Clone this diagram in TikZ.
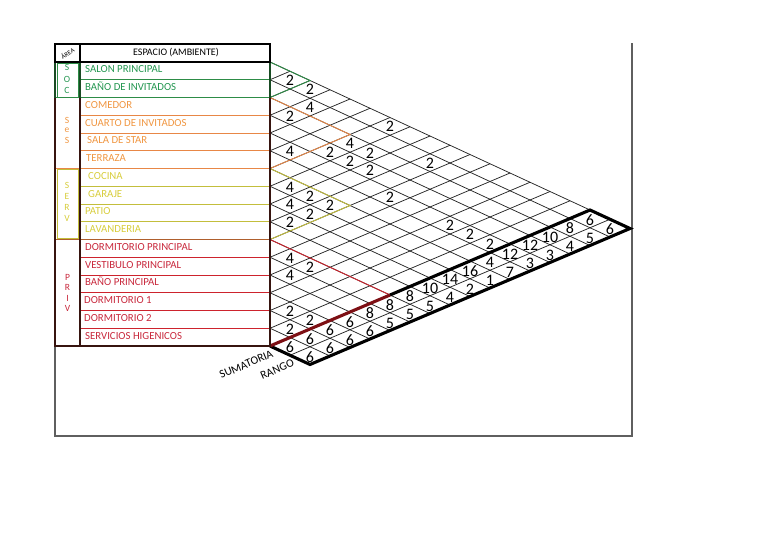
\documentclass[tikz,border=0pt]{standalone}
\usepackage{fontspec}
\setmainfont{Carlito}
\definecolor{socl}{RGB}{45,140,70}
\definecolor{soct}{RGB}{35,150,80}
\definecolor{socdark}{RGB}{25,75,35}
\definecolor{sesl}{RGB}{232,135,70}
\definecolor{sest}{RGB}{240,150,65}
\definecolor{servl}{RGB}{195,190,60}
\definecolor{servt}{RGB}{215,205,60}
\definecolor{privl}{RGB}{205,35,45}
\definecolor{privt}{RGB}{200,40,60}
\definecolor{privdark}{RGB}{125,15,20}
\definecolor{dkbrown}{RGB}{55,20,15}
\definecolor{sepbrown}{RGB}{175,95,45}
\definecolor{framegray}{RGB}{95,95,95}
\newcommand\yrow[1]{62+17.75*(#1)}
\newcommand\gpx[2]{270+20*((#2)-(#1))}
\newcommand\gpy[2]{62+17.75*(#1)+9.25*((#2)-(#1))}
\newcommand\ccx[2]{270+20*((#2)-(#1))}
\newcommand\ccy[2]{62+17.75*((#1)-0.5)+9.25*((#2)-(#1))}
\tikzset{
  gridln/.style={line width=0.75pt, black!85},
  rowtxt/.style={anchor=base west, inner sep=0pt, font=\fontsize{10.8}{12}\selectfont},
  grptxt/.style={inner sep=0pt, font=\fontsize{9.5}{10}\selectfont},
  numtxt/.style={anchor=base, inner sep=0pt, font=\fontsize{16}{18}\selectfont},
  bandln/.style={line width=3.1pt, black, line join=miter},
  bandlbl/.style={anchor=base east, inner sep=0pt, rotate=23, font=\fontsize{11.5}{13}\selectfont},
}
\begin{document}
\begin{tikzpicture}[x=1pt,y=-1pt]
\useasboundingbox (0,0) rectangle (768,543);

% outer frame
\draw[framegray, line width=1.1pt] (55,346) -- (55,436) -- (632,436) -- (632,43);

% ---------- grid ----------
\foreach \k in {0,...,16}
  \draw[gridln] (270,{\yrow{\k}}) -- ({\gpx{\k}{18}},{\gpy{\k}{18}});
\foreach \j in {1,...,16}
  \draw[gridln] (270,{\yrow{\j}}) -- ({\gpx{0}{\j}},{\gpy{0}{\j}});
\foreach \j in {17,18}
  \draw[gridln] ({\gpx{16}{\j}},{\gpy{16}{\j}}) -- ({\gpx{0}{\j}},{\gpy{0}{\j}});

% group triangles
\draw[socl, line width=0.9pt] (270,{\yrow{0}}) -- ({\gpx{0}{2}},{\gpy{0}{2}}) -- (270,{\yrow{2}});
\draw[sesl, line width=0.9pt] (270,{\yrow{2}}) -- ({\gpx{2}{6}},{\gpy{2}{6}}) -- (270,{\yrow{6}});
\draw[servl, line width=0.9pt] (270,{\yrow{6}}) -- ({\gpx{6}{10}},{\gpy{6}{10}}) -- (270,{\yrow{10}});
\draw[privl, line width=0.9pt] (270,{\yrow{10}}) -- ({\gpx{10}{16}},{\gpy{10}{16}});

% band outline
\coordinate (b1) at (270,{\yrow{16}});
\coordinate (b2) at ({\gpx{16}{18}},{\gpy{16}{18}});
\coordinate (b3) at ({\gpx{0}{18}},{\gpy{0}{18}});
\coordinate (b4) at ({\gpx{0}{16}},{\gpy{0}{16}});
\coordinate (b5) at ({\gpx{10}{16}},{\gpy{10}{16}});
\draw[bandln] (b5) -- (b4) -- (b3) -- (b2) -- (b1);
\draw[bandln, privdark] (b1) -- (b5);

% ---------- table ----------
% row separators
\draw[socl, line width=0.9pt] (80,{\yrow{1}}) -- (270,{\yrow{1}});
\foreach \k in {3,4,5}
  \draw[sesl, line width=0.9pt] (80,{\yrow{\k}}) -- (270,{\yrow{\k}});
\foreach \k in {7,8,9}
  \draw[servl, line width=0.9pt] (80,{\yrow{\k}}) -- (270,{\yrow{\k}});
\foreach \k in {11,...,15}
  \draw[privl, line width=0.9pt] (80,{\yrow{\k}}) -- (270,{\yrow{\k}});
% group boundaries
\draw[socl, line width=1pt] (55,{\yrow{2}}) -- (270,{\yrow{2}});
\draw[sesl, line width=1pt] (55,{\yrow{6}}) -- (270,{\yrow{6}});
\draw[sepbrown, line width=1.1pt] (55,{\yrow{10}}) -- (270,{\yrow{10}});
% area-cell inner outlines
\draw[servl, line width=0.8pt] (57.5,{\yrow{6}+1}) rectangle (78,{\yrow{10}-1});
% thick borders
\draw[dkbrown, line width=2.4pt] (55,{\yrow{2}}) -- (55,{\yrow{16}}) -- (270,{\yrow{16}}) -- (270,{\yrow{2}});
\draw[dkbrown, line width=2.4pt] (80,{\yrow{2}}) -- (80,{\yrow{16}});
\draw[socdark, line width=2.4pt] (55,62) -- (55,{\yrow{2}});
\draw[socdark, line width=2.4pt] (80,62) -- (80,{\yrow{2}});
\draw[socdark, line width=2.4pt] (270,62) -- (270,{\yrow{2}});
\draw[socl, line width=0.9pt] (57.5,63.5) rectangle (78,{\yrow{2}-0.5});
% header
\draw[black, line width=2.4pt] (55,44) rectangle (270,62);
\draw[black, line width=2.4pt] (80,44) -- (80,62);
\node[font=\fontsize{10}{12}\selectfont, inner sep=0pt] (hdr) at (176,52.5) {ESPACIO (AMBIENTE)};
\node[rotate=32, font=\fontsize{6.5}{7}\selectfont, inner sep=0pt] (areahdr) at (67.5,53) {ÁREA};

% group letters
\foreach \t/\yy [count=\n] in {S/67.5,O/79,C/90}
  \node[grptxt, text=soct] (soc-\n) at (67,\yy) {\t};
\foreach \t/\yy [count=\n] in {S/120,e/130,S/140}
  \node[grptxt, text=sest] (ses-\n) at (67,\yy) {\t};
\foreach \t/\yy [count=\n] in {S/185,E/196,R/207,V/218}
  \node[grptxt, text=servt] (serv-\n) at (67,\yy) {\t};
\foreach \t/\yy [count=\n] in {P/277,R/287.5,I/298,V/308.5}
  \node[grptxt, text=privt] (priv-\n) at (67.5,\yy) {\t};

% row labels
\foreach \r/\xx/\t/\c in {
  1/85/SALON PRINCIPAL/soct,
  2/85/BAÑO DE INVITADOS/soct,
  3/85/COMEDOR/sest,
  4/85/CUARTO DE INVITADOS/sest,
  5/87/SALA DE STAR/sest,
  6/86/TERRAZA/sest,
  7/88/COCINA/servt,
  8/88/GARAJE/servt,
  9/85/PATIO/servt,
  10/85/LAVANDERIA/servt,
  11/85/DORMITORIO PRINCIPAL/privt,
  12/85/VESTIBULO PRINCIPAL/privt,
  13/85/BAÑO PRINCIPAL/privt,
  14/84/DORMITORIO 1/privt,
  15/84/DORMITORIO 2/privt,
  16/85/SERVICIOS HIGENICOS/privt}
  \node[rowtxt, text=\c] (row-\r) at (\xx,{\yrow{\r-0.5}+2}) {\t};

% ---------- values ----------
\foreach \i/\j/\v in {1/2/2,1/3/2,1/7/2,2/4/4,2/10/2,3/4/2,3/7/4,3/8/2,
  4/7/2,4/8/2,4/9/2,5/6/4,5/11/2,5/14/2,5/15/2,5/16/2,
  7/8/4,7/9/2,7/10/2,8/9/4,8/10/2,9/10/2,
  11/12/4,11/13/2,12/13/4,14/15/2,14/16/2,15/16/2}
  \node[numtxt] (c-\i-\j) at ({\ccx{\i}{\j}},{\ccy{\i}{\j}+5.5}) {\v};
% sumatoria
\foreach \i/\v in {1/6,2/8,3/10,4/12,5/12,6/4,7/16,8/14,9/10,10/8,11/8,12/8,13/6,14/6,15/6,16/6}
  \node[numtxt] (s-\i) at ({\ccx{\i}{17}},{\ccy{\i}{17}+6.5}) {\v};
% rango
\foreach \i/\v in {1/6,2/5,3/4,4/3,5/3,6/7,7/1,8/2,9/4,10/5,11/5,12/5,13/6,14/6,15/6,16/6}
  \node[numtxt] (g-\i) at ({\ccx{\i}{18}},{\ccy{\i}{18}+6.5}) {\v};

% band labels
\node[bandlbl] (sumlbl) at (274,{\ccy{16.5}{17}+6}) {SUMATORIA};
\node[bandlbl] (ranlbl) at (295,{\ccy{16.5}{18}+6}) {RANGO};
\end{tikzpicture}
\end{document}
